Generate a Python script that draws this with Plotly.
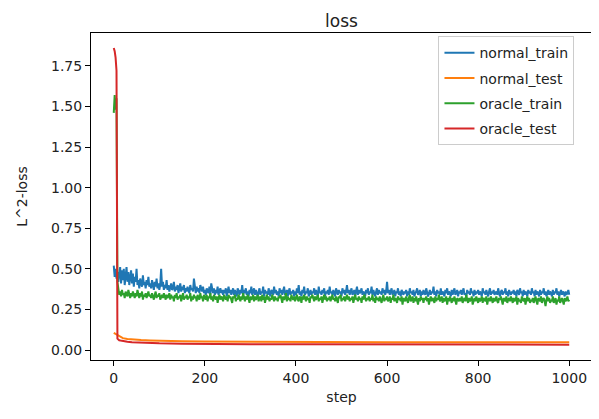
import plotly.graph_objs as go

# x axis: training steps, one point every 2 steps
steps = list(range(0, 1001, 2))

normal_train = [
    0.52, 0.45, 0.50, 0.44, 0.48, 0.42, 0.47, 0.51, 0.41, 0.49, 0.43, 0.50, 0.40, 0.46, 0.51, 0.42, 0.48, 0.40, 0.44, 0.49,
    0.41, 0.47, 0.39, 0.45, 0.42, 0.50, 0.40, 0.43, 0.38, 0.44, 0.41, 0.39, 0.46, 0.40, 0.42, 0.38, 0.43, 0.40, 0.45, 0.39,
    0.41, 0.38, 0.43, 0.40, 0.37, 0.42, 0.39, 0.44, 0.38, 0.41, 0.37, 0.40, 0.50, 0.39, 0.42, 0.37, 0.40, 0.38, 0.43, 0.37,
    0.40, 0.36, 0.39, 0.41, 0.37, 0.38, 0.42, 0.36, 0.39, 0.37, 0.40, 0.35, 0.38, 0.41, 0.36, 0.39, 0.37, 0.40, 0.35, 0.38,
    0.36, 0.39, 0.37, 0.35, 0.40, 0.37, 0.38, 0.36, 0.44, 0.37, 0.35, 0.39, 0.36, 0.38, 0.35, 0.40, 0.37, 0.36, 0.39, 0.35,
    0.37, 0.34, 0.38, 0.36, 0.35, 0.39, 0.34, 0.41, 0.36, 0.35, 0.38, 0.34, 0.37, 0.35, 0.39, 0.34, 0.36, 0.38, 0.35, 0.37,
    0.34, 0.37, 0.35, 0.38, 0.33, 0.36, 0.39, 0.35, 0.37, 0.34, 0.36, 0.38, 0.34, 0.37, 0.35, 0.33, 0.38, 0.36, 0.34, 0.37,
    0.35, 0.40, 0.34, 0.37, 0.35, 0.38, 0.34, 0.36, 0.33, 0.37, 0.35, 0.39, 0.34, 0.36, 0.38, 0.34, 0.37, 0.35, 0.33, 0.36,
    0.38, 0.34, 0.36, 0.35, 0.39, 0.33, 0.37, 0.35, 0.36, 0.34, 0.38, 0.35, 0.33, 0.37, 0.36, 0.34, 0.39, 0.35, 0.37, 0.34,
    0.36, 0.33, 0.38, 0.35, 0.37, 0.34, 0.36, 0.39, 0.34, 0.35, 0.37, 0.33, 0.36, 0.38, 0.34, 0.36, 0.35, 0.37, 0.33, 0.36,
    0.34, 0.38, 0.35, 0.40, 0.34, 0.36, 0.33, 0.37, 0.35, 0.39, 0.34, 0.36, 0.35, 0.38, 0.33, 0.36, 0.37, 0.34, 0.36, 0.35,
    0.38, 0.34, 0.37, 0.35, 0.33, 0.39, 0.35, 0.36, 0.34, 0.37, 0.35, 0.38, 0.33, 0.36, 0.35, 0.37, 0.34, 0.39, 0.35, 0.36,
    0.34, 0.37, 0.35, 0.33, 0.38, 0.36, 0.34, 0.37, 0.35, 0.36, 0.33, 0.38, 0.35, 0.37, 0.34, 0.36, 0.40, 0.35, 0.37, 0.34,
    0.36, 0.38, 0.34, 0.35, 0.37, 0.33, 0.36, 0.39, 0.34, 0.37, 0.35, 0.36, 0.38, 0.34, 0.36, 0.35, 0.33, 0.37, 0.35, 0.38,
    0.34, 0.36, 0.35, 0.39, 0.34, 0.37, 0.35, 0.33, 0.36, 0.38, 0.34, 0.37, 0.35, 0.36, 0.34, 0.38, 0.35, 0.37, 0.34, 0.36,
    0.42, 0.35, 0.37, 0.34, 0.36, 0.38, 0.34, 0.35, 0.37, 0.33, 0.36, 0.35, 0.38, 0.34, 0.36, 0.33, 0.37, 0.35, 0.34, 0.36,
    0.35, 0.37, 0.33, 0.36, 0.34, 0.38, 0.35, 0.36, 0.34, 0.37, 0.33, 0.35, 0.36, 0.38, 0.34, 0.35, 0.37, 0.33, 0.36, 0.34,
    0.37, 0.35, 0.34, 0.38, 0.36, 0.33, 0.35, 0.37, 0.34, 0.36, 0.35, 0.39, 0.34, 0.36, 0.33, 0.37, 0.35, 0.36, 0.34, 0.38,
    0.34, 0.36, 0.35, 0.33, 0.37, 0.35, 0.38, 0.34, 0.36, 0.35, 0.33, 0.37, 0.34, 0.36, 0.38, 0.34, 0.35, 0.37, 0.33, 0.36,
    0.35, 0.37, 0.34, 0.36, 0.38, 0.34, 0.35, 0.33, 0.37, 0.35, 0.36, 0.34, 0.38, 0.35, 0.36, 0.33, 0.37, 0.34, 0.36, 0.35,
    0.37, 0.34, 0.36, 0.35, 0.33, 0.38, 0.35, 0.36, 0.34, 0.37, 0.35, 0.33, 0.36, 0.38, 0.34, 0.36, 0.35, 0.37, 0.34, 0.35,
    0.36, 0.34, 0.38, 0.35, 0.33, 0.36, 0.37, 0.34, 0.36, 0.35, 0.38, 0.34, 0.36, 0.33, 0.37, 0.35, 0.34, 0.36, 0.35, 0.37,
    0.34, 0.36, 0.33, 0.37, 0.35, 0.34, 0.38, 0.35, 0.36, 0.33, 0.37, 0.34, 0.36, 0.35, 0.33, 0.37, 0.35, 0.36, 0.34, 0.38,
    0.35, 0.36, 0.33, 0.37, 0.34, 0.36, 0.35, 0.33, 0.37, 0.34, 0.36, 0.35, 0.38, 0.34, 0.36, 0.33, 0.35, 0.37, 0.34, 0.36,
    0.35, 0.33, 0.37, 0.34, 0.36, 0.35, 0.38, 0.34, 0.36, 0.33, 0.35, 0.37, 0.34, 0.36, 0.35, 0.33, 0.36, 0.34, 0.35, 0.37,
    0.34,
]

oracle_train = [
    1.46, 1.57, 1.48, 1.55, 0.42, 0.37, 0.34, 0.36, 0.33, 0.37, 0.34, 0.35, 0.32, 0.36, 0.34, 0.33, 0.37, 0.34, 0.32, 0.35,
    0.33, 0.36, 0.34, 0.32, 0.35, 0.33, 0.37, 0.34, 0.32, 0.35, 0.33, 0.36, 0.31, 0.34, 0.33, 0.35, 0.32, 0.34, 0.36, 0.33,
    0.34, 0.32, 0.35, 0.33, 0.31, 0.34, 0.36, 0.32, 0.34, 0.33, 0.35, 0.31, 0.33, 0.34, 0.32, 0.35, 0.33, 0.31, 0.34, 0.32,
    0.33, 0.35, 0.31, 0.34, 0.32, 0.33, 0.30, 0.34, 0.32, 0.35, 0.31, 0.33, 0.32, 0.34, 0.30, 0.33, 0.35, 0.31, 0.33, 0.32,
    0.34, 0.31, 0.33, 0.32, 0.35, 0.30, 0.33, 0.31, 0.34, 0.32, 0.33, 0.30, 0.34, 0.32, 0.31, 0.35, 0.32, 0.33, 0.30, 0.34,
    0.32, 0.31, 0.34, 0.30, 0.33, 0.32, 0.35, 0.31, 0.33, 0.30, 0.34, 0.32, 0.31, 0.33, 0.29, 0.32, 0.34, 0.31, 0.33, 0.32,
    0.30, 0.34, 0.32, 0.31, 0.33, 0.30, 0.34, 0.32, 0.33, 0.31, 0.29, 0.33, 0.32, 0.34, 0.30, 0.32, 0.31, 0.34, 0.32, 0.30,
    0.33, 0.31, 0.35, 0.32, 0.30, 0.33, 0.31, 0.34, 0.32, 0.29, 0.33, 0.31, 0.32, 0.34, 0.30, 0.33, 0.31, 0.32, 0.34, 0.30,
    0.32, 0.33, 0.30, 0.34, 0.31, 0.33, 0.29, 0.32, 0.34, 0.31, 0.33, 0.30, 0.32, 0.31, 0.34, 0.32, 0.30, 0.33, 0.31, 0.32,
    0.30, 0.33, 0.32, 0.34, 0.31, 0.29, 0.33, 0.31, 0.32, 0.35, 0.30, 0.33, 0.31, 0.32, 0.30, 0.34, 0.32, 0.31, 0.33, 0.30,
    0.32, 0.34, 0.31, 0.30, 0.33, 0.32, 0.29, 0.33, 0.31, 0.34, 0.32, 0.30, 0.33, 0.31, 0.32, 0.29, 0.33, 0.32, 0.34, 0.31,
    0.30, 0.33, 0.31, 0.32, 0.34, 0.30, 0.32, 0.31, 0.33, 0.29, 0.32, 0.34, 0.31, 0.33, 0.30, 0.32, 0.31, 0.33, 0.30, 0.32,
    0.34, 0.31, 0.32, 0.30, 0.33, 0.31, 0.29, 0.33, 0.32, 0.34, 0.30, 0.32, 0.31, 0.33, 0.30, 0.32, 0.34, 0.31, 0.33, 0.30,
    0.32, 0.31, 0.33, 0.29, 0.32, 0.34, 0.31, 0.32, 0.30, 0.33, 0.31, 0.32, 0.29, 0.33, 0.31, 0.34, 0.32, 0.30, 0.32, 0.31,
    0.33, 0.30, 0.32, 0.31, 0.34, 0.30, 0.32, 0.29, 0.33, 0.31, 0.32, 0.30, 0.33, 0.31, 0.29, 0.32, 0.34, 0.30, 0.32, 0.31,
    0.33, 0.30, 0.31, 0.33, 0.29, 0.32, 0.31, 0.34, 0.30, 0.32, 0.31, 0.29, 0.33, 0.31, 0.32, 0.30, 0.33, 0.28, 0.32, 0.31,
    0.30, 0.33, 0.31, 0.29, 0.32, 0.34, 0.30, 0.31, 0.33, 0.29, 0.32, 0.30, 0.33, 0.31, 0.28, 0.32, 0.30, 0.33, 0.31, 0.32,
    0.29, 0.32, 0.31, 0.33, 0.30, 0.32, 0.28, 0.31, 0.33, 0.30, 0.32, 0.31, 0.29, 0.33, 0.30, 0.32, 0.31, 0.34, 0.30, 0.31,
    0.33, 0.29, 0.32, 0.30, 0.31, 0.33, 0.28, 0.32, 0.30, 0.33, 0.31, 0.29, 0.32, 0.30, 0.33, 0.31, 0.28, 0.32, 0.31, 0.30,
    0.32, 0.30, 0.33, 0.29, 0.31, 0.32, 0.30, 0.34, 0.31, 0.29, 0.32, 0.30, 0.31, 0.33, 0.28, 0.31, 0.32, 0.30, 0.33, 0.31,
    0.29, 0.32, 0.30, 0.31, 0.33, 0.29, 0.32, 0.31, 0.30, 0.33, 0.28, 0.31, 0.32, 0.30, 0.33, 0.31, 0.29, 0.32, 0.30, 0.31,
    0.33, 0.30, 0.29, 0.32, 0.31, 0.33, 0.30, 0.28, 0.32, 0.31, 0.30, 0.33, 0.29, 0.31, 0.32, 0.30, 0.33, 0.31, 0.29, 0.32,
    0.30, 0.31, 0.33, 0.28, 0.32, 0.30, 0.31, 0.29, 0.33, 0.31, 0.30, 0.32, 0.28, 0.31, 0.33, 0.30, 0.32, 0.29, 0.31, 0.30,
    0.32, 0.29, 0.31, 0.33, 0.30, 0.28, 0.32, 0.31, 0.30, 0.33, 0.29, 0.31, 0.32, 0.30, 0.27, 0.31, 0.33, 0.30, 0.32, 0.29,
    0.31, 0.30, 0.33, 0.29, 0.31, 0.32, 0.28, 0.31, 0.30, 0.33, 0.29, 0.31, 0.32, 0.30, 0.28, 0.32, 0.30, 0.31, 0.33, 0.30,
    0.31,
]

# test losses are smooth, so fewer points
test_steps = [0, 2, 4, 6, 8, 10, 12, 15, 20, 30, 40, 60, 80, 100,
              150, 200, 300, 400, 500, 600, 700, 800, 900, 1000]
normal_test = [0.105, 0.102, 0.098, 0.094, 0.090, 0.086, 0.082, 0.078,
               0.073, 0.068, 0.065, 0.061, 0.059, 0.057, 0.054, 0.052,
               0.050, 0.049, 0.048, 0.048, 0.047, 0.047, 0.047, 0.047]
oracle_test = [1.86, 1.84, 1.80, 1.72, 0.07, 0.062, 0.060, 0.058,
               0.055, 0.051, 0.048, 0.045, 0.043, 0.041, 0.039, 0.037,
               0.036, 0.035, 0.035, 0.034, 0.034, 0.034, 0.033, 0.033]

y_ticks = [0.0, 0.25, 0.5, 0.75, 1.0, 1.25, 1.5, 1.75]
x_ticks = [0, 200, 400, 600, 800, 1000]

fig = go.Figure()
series = [
    ("normal_train", steps, normal_train, "#1f77b4"),
    ("normal_test", test_steps, normal_test, "#ff7f0e"),
    ("oracle_train", steps, oracle_train, "#2ca02c"),
    ("oracle_test", test_steps, oracle_test, "#d62728"),
]
for name, xs, ys, color in series:
    fig.add_trace(go.Scatter(x=xs, y=ys, mode="lines", name=name,
                             legendgroup=name,
                             line=dict(color=color, width=2)))

axis_style = dict(showline=True, mirror=True, linecolor="black", linewidth=1,
                  ticks="outside", ticklen=5, tickwidth=1, tickcolor="black",
                  showgrid=False, zeroline=False,
                  tickfont=dict(size=14, color="#222"))

fig.update_layout(
    width=599, height=419,
    margin=dict(l=83, r=15, t=25, b=67),
    paper_bgcolor="white", plot_bgcolor="white",
    font=dict(family="DejaVu Sans", size=14, color="#222"),
    title=dict(text="loss", x=0.5, xref="paper", y=1 - 19 / 419,
               yanchor="bottom", font=dict(size=17, color="#222")),
    xaxis=dict(range=[-50, 1050], tickvals=x_ticks,
               title=dict(text="step", standoff=7, font=dict(size=14)),
               **axis_style),
    yaxis=dict(range=[-0.0616, 1.952], tickvals=y_ticks, tickformat=".2f",
               title=dict(text="L^2-loss", standoff=20, font=dict(size=14)),
               **axis_style),
    legend=dict(x=0.965, y=0.99, xanchor="right", yanchor="top",
                bgcolor="white", bordercolor="#cccccc", borderwidth=1,
                traceorder="grouped", tracegroupgap=4,
                font=dict(size=14, color="#222")),
)

fig.write_html("out.html")
